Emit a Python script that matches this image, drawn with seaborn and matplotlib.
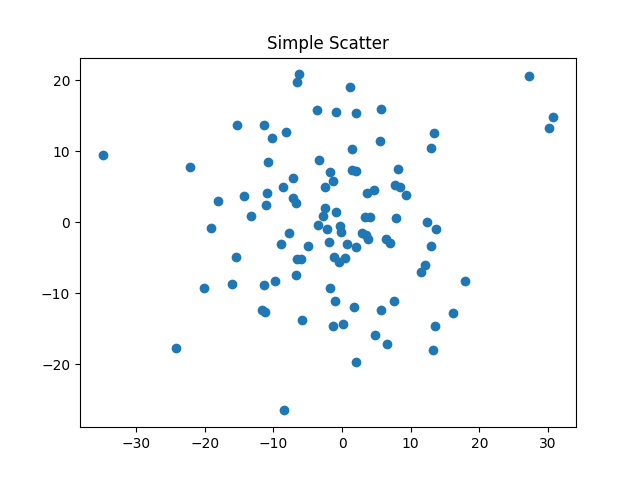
import matplotlib
matplotlib.use("Agg")
import matplotlib.pyplot as plt
import seaborn as sns
import pandas as pd

x = [-34.9,-22.2,-24.2,-20.1,-19.1,-18.1,-15.3,-15.5,-16.1,-14.3,-13.3,-11.4,-10.2,-10.8,-10.9,-11.1,-11.4,-11.7,-11.2,-9.8,
     -8.2,-8.6,-8.9,-8.5,-7.2,-7.2,-6.7,-7.7,-6.6,-6.0,-6.7,-5.8,-6.3,-6.6,-5.0,-3.6,-3.4,-3.5,-2.5,-2.8,
     -2.5,-2.2,-1.9,-1.8,-1.3,-1.8,-1.2,-1.0,-1.3,-0.9,-0.9,-0.3,-0.1,-0.4,0.4,0.7,0.1,1.2,1.5,1.5,
     2.0,1.8,2.0,2.0,2.0,2.9,3.4,3.6,3.8,3.5,4.1,4.7,4.8,5.5,5.7,5.7,6.4,7.0,6.6,7.6,
     7.7,7.9,8.2,8.5,9.3,11.5,12.1,12.4,13.0,13.0,13.3,13.4,13.6,13.7,16.1,17.9,27.2,30.1,30.8]
y = [9.4,7.7,-17.7,-9.2,-0.8,3.0,13.7,-4.9,-8.7,3.7,0.8,13.7,11.8,8.5,4.1,2.4,-8.9,-12.4,-12.7,-8.3,
     12.7,4.9,-3.1,-26.5,6.2,3.4,2.7,-1.5,-5.2,-5.2,-7.5,-13.8,20.8,19.8,-3.4,15.8,8.7,-0.4,4.9,0.8,
     2.0,-1.0,-2.8,7.0,5.8,-9.2,-4.9,-11.1,-14.6,15.5,1.4,-0.6,-1.4,-5.6,-5.1,-3.1,-14.4,19.0,10.3,7.3,
     7.2,-12.0,15.4,-3.5,-19.7,-1.5,0.7,4.1,-2.4,-1.8,0.7,4.5,-15.9,11.4,15.9,-12.4,-2.4,-3.0,-17.2,-11.1,
     5.2,0.6,7.5,4.9,3.8,-7.0,-6.1,0.0,10.4,-3.4,-18.0,12.5,-14.6,-1.0,-12.8,-8.3,20.6,13.2,14.8]

df = pd.DataFrame({"x": x, "y": y})
fig, ax = plt.subplots(figsize=(6.4, 4.8), dpi=100)
sns.scatterplot(data=df, x="x", y="y", ax=ax, s=36, linewidth=1, edgecolor="#1f77b4", color="#1f77b4")
ax.set_xlabel("")
ax.set_ylabel("")
ax.set_title("Simple Scatter")
fig.savefig("out.png")
